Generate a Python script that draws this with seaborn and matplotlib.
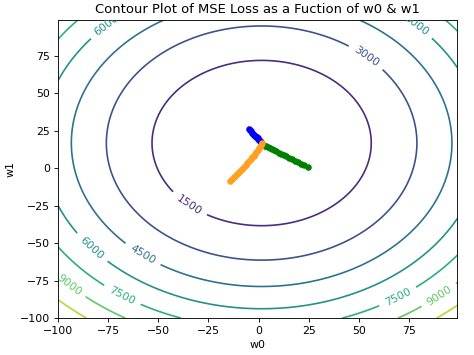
import numpy as np
import matplotlib
matplotlib.use("Agg")
import matplotlib.pyplot as plt
import seaborn as sns

# loss surface parameters
w0_center = 1.5
w1_center = 16.8
w0_coef = 0.50
w1_coef = 0.49
loss_min = 10
levels = [0, 1500, 3000, 4500, 6000, 7500, 9000, 10500, 12000]

# gradient descent paths
blue_w0 = [-4.9, -4.3, -3.7, -3.1, -2.6, -2.1, -1.6, -1.2, -0.8, -0.4, -0.1, 0.2, 0.5, 0.8, 1.0]
blue_w1 = [26.2, 25.4, 24.6, 23.8, 23.1, 22.4, 21.7, 21.1, 20.5, 19.9, 19.4, 18.9, 18.4, 18.0, 17.6]

green_w0 = [24.5, 22.8, 21.2, 19.6, 18.1, 16.6, 15.2, 13.8, 12.5, 11.2, 10.0, 8.8, 7.7, 6.6, 5.6, 4.7, 3.8, 3.0, 2.3, 1.7]
green_w1 = [1.0, 2.1, 3.1, 4.1, 5.1, 6.1, 7.0, 7.9, 8.8, 9.6, 10.4, 11.2, 11.9, 12.6, 13.3, 13.9, 14.5, 15.0, 15.5, 16.0]

orange_w0 = [-14.1, -13.2, -12.2, -11.2, -10.2, -9.2, -8.3, -7.4, -6.5, -5.6, -4.8, -4.0, -3.2, -2.5, -1.8, -1.1, -0.5, 0.1, 0.6, 1.1, 1.5]
orange_w1 = [-8.6, -7.3, -5.9, -4.5, -3.1, -1.7, -0.3, 1.0, 2.3, 3.6, 4.8, 6.0, 7.2, 8.4, 9.6, 10.8, 12.0, 13.2, 14.4, 15.6, 16.8]

# where the contour labels sit
label_spots = [(-34, -23), (53, 73), (-57, -56), (-81, -50), (-76, 96), (77, 93),
               (-68, -85), (69, -85), (-93, -75), (88, -81)]

# grid
w0 = np.arange(-100, 100)
w1 = np.arange(-100, 100)
W0, W1 = np.meshgrid(w0, w1)
Z = w0_coef * (W0 - w0_center) ** 2 + w1_coef * (W1 - w1_center) ** 2 + loss_min

fig, ax = plt.subplots(figsize=(6.0, 4.494), dpi=79)
cs = ax.contour(W0, W1, Z, levels=levels, cmap="viridis")
ax.set_xlim(-100, 99)
ax.set_ylim(-100, 99)
ax.clabel(cs, inline=True, fontsize=10, manual=label_spots)

sns.scatterplot(x=blue_w0, y=blue_w1, color="blue", s=36, linewidth=0, ax=ax)
sns.scatterplot(x=green_w0, y=green_w1, color="green", s=36, linewidth=0, ax=ax)
sns.scatterplot(x=orange_w0, y=orange_w1, color="#ffa020", s=36, linewidth=0, ax=ax)

ax.set_title("Contour Plot of MSE Loss as a Fuction of w0 & w1")
ax.set_xlabel("w0")
ax.set_ylabel("w1")

plt.subplots_adjust(left=0.122, right=0.965, top=0.944, bottom=0.104)
plt.savefig("out.png", dpi=79)
